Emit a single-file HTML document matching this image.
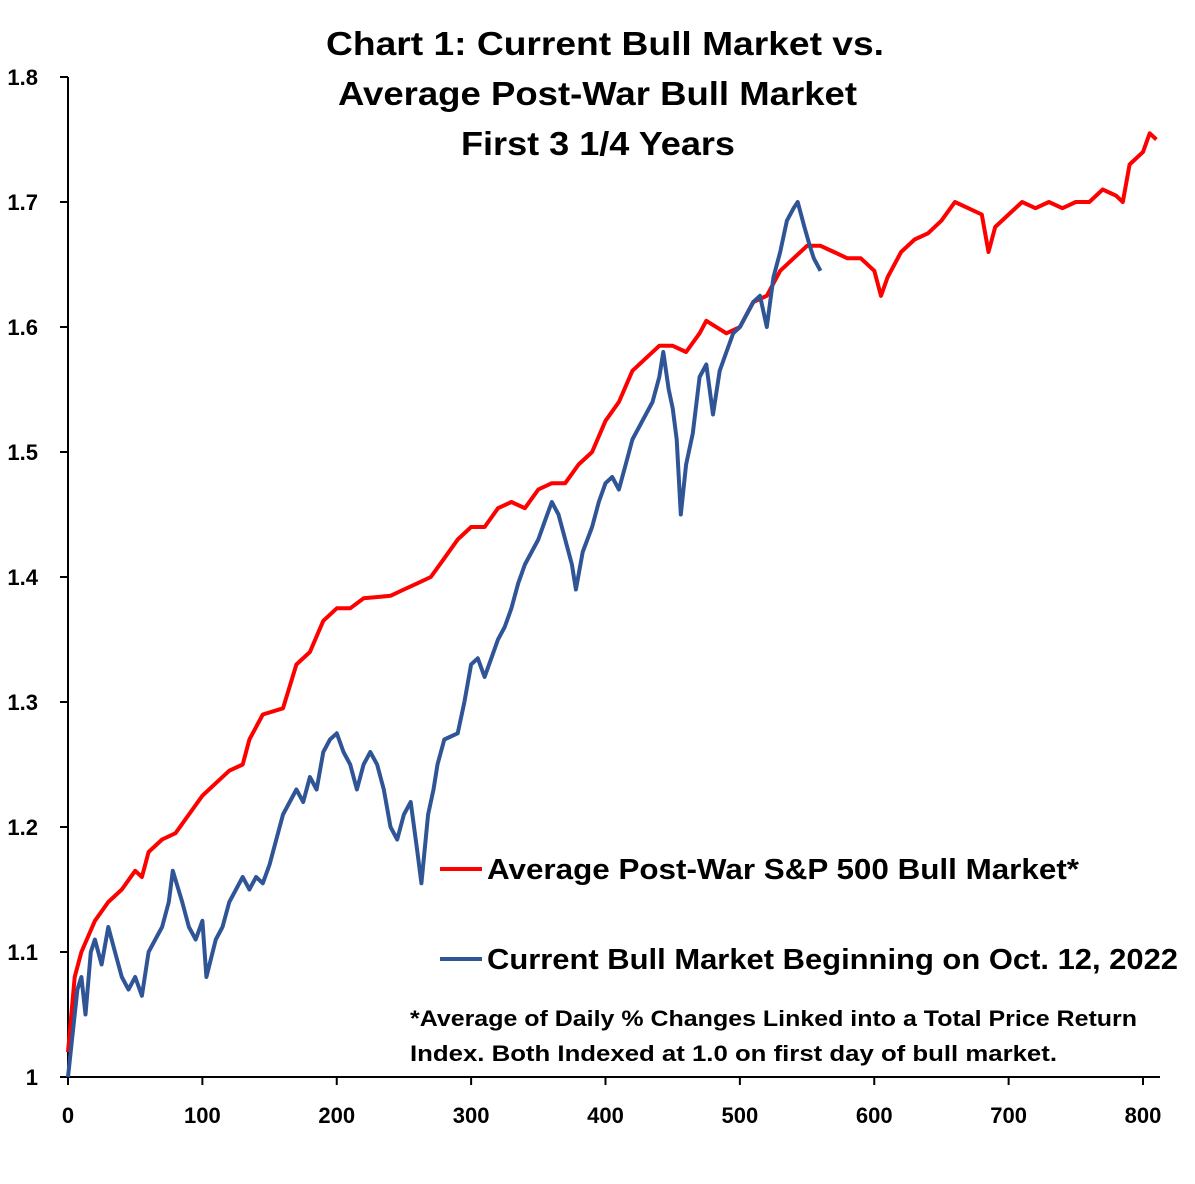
<!DOCTYPE html>
<html><head><meta charset="utf-8"><style>
body{margin:0;background:#fff;width:1195px;height:1179px;overflow:hidden;font-family:"Liberation Sans",sans-serif}
</style></head><body>
<svg width="1195" height="1179" font-family="Liberation Sans, sans-serif" font-weight="bold">
<g font-size="33" fill="#000">
<text x="326" y="55" textLength="558" lengthAdjust="spacingAndGlyphs">Chart 1: Current Bull Market vs.</text>
<text x="338" y="105" textLength="519" lengthAdjust="spacingAndGlyphs">Average Post-War Bull Market</text>
<text x="461" y="155" textLength="274" lengthAdjust="spacingAndGlyphs">First 3 1/4 Years</text>
</g>
<g id="axes"></g>
<g id="series"></g>
<g font-size="29" fill="#000">
<line x1="440" y1="869" x2="482" y2="869" stroke="#ff0000" stroke-width="4"/>
<text x="487" y="879" textLength="592" lengthAdjust="spacingAndGlyphs">Average Post-War S&amp;P 500 Bull Market*</text>
<line x1="440" y1="959" x2="482" y2="959" stroke="#2f5597" stroke-width="4"/>
<text x="487" y="969" textLength="691" lengthAdjust="spacingAndGlyphs">Current Bull Market Beginning on Oct. 12, 2022</text>
</g>
<g font-size="22" fill="#000">
<text x="410" y="1026" textLength="727" lengthAdjust="spacingAndGlyphs">*Average of Daily % Changes Linked into a Total Price Return</text>
<text x="410" y="1061" textLength="647" lengthAdjust="spacingAndGlyphs">Index.  Both Indexed at 1.0 on first day of bull market.</text>
</g>
</svg>
<script>
const xTicks=[0,100,200,300,400,500,600,700,800];
const yTicks=[1,1.1,1.2,1.3,1.4,1.5,1.6,1.7,1.8];
const yTickLabels=["1","1.1","1.2","1.3","1.4","1.5","1.6","1.7","1.8"];
const avgX=[0,5,10,20,30,40,50,55,60,70,80,90,100,110,120,130,135,145,160,170,180,190,200,210,220,240,250,260,270,280,290,300,310,320,330,340,350,360,370,380,390,400,410,420,430,440,450,460,470,475,490,500,510,520,530,540,550,560,570,580,590,600,605,610,620,630,640,650,660,670,680,685,690,700,710,720,730,740,750,760,770,780,785,790,800,805,810];
const avgY=[1.02,1.08,1.10,1.125,1.14,1.15,1.165,1.16,1.18,1.19,1.195,1.21,1.225,1.235,1.245,1.25,1.27,1.29,1.295,1.33,1.34,1.365,1.375,1.375,1.383,1.385,1.39,1.395,1.40,1.415,1.43,1.44,1.44,1.455,1.46,1.455,1.47,1.475,1.475,1.49,1.50,1.525,1.54,1.565,1.575,1.585,1.585,1.58,1.595,1.605,1.595,1.60,1.62,1.625,1.645,1.655,1.665,1.665,1.66,1.655,1.655,1.645,1.625,1.64,1.66,1.67,1.675,1.685,1.70,1.695,1.69,1.66,1.68,1.69,1.70,1.695,1.70,1.695,1.70,1.70,1.71,1.705,1.70,1.73,1.74,1.755,1.75];
const curX=[0,3,7,10,13,17,20,25,30,35,40,45,50,55,60,65,70,75,78,85,90,95,100,103,110,115,120,125,130,135,140,145,150,155,160,170,175,180,185,190,195,200,205,210,215,220,225,230,235,240,245,250,255,260,263,268,272,275,280,290,295,300,305,310,315,320,325,330,335,340,345,350,355,360,365,370,375,378,383,390,395,400,405,410,415,420,425,430,435,440,443,447,450,453,456,460,465,470,475,480,485,490,495,500,505,510,515,520,525,530,535,540,543,548,552,555,560];
const curY=[1.0,1.03,1.07,1.08,1.05,1.10,1.11,1.09,1.12,1.10,1.08,1.07,1.08,1.065,1.10,1.11,1.12,1.14,1.165,1.14,1.12,1.11,1.125,1.08,1.11,1.12,1.14,1.15,1.16,1.15,1.16,1.155,1.17,1.19,1.21,1.23,1.22,1.24,1.23,1.26,1.27,1.275,1.26,1.25,1.23,1.25,1.26,1.25,1.23,1.20,1.19,1.21,1.22,1.18,1.155,1.21,1.23,1.25,1.27,1.275,1.30,1.33,1.335,1.32,1.335,1.35,1.36,1.375,1.395,1.41,1.42,1.43,1.445,1.46,1.45,1.43,1.41,1.39,1.42,1.44,1.46,1.475,1.48,1.47,1.49,1.51,1.52,1.53,1.54,1.56,1.58,1.55,1.535,1.51,1.45,1.49,1.515,1.56,1.57,1.53,1.565,1.58,1.595,1.60,1.61,1.62,1.625,1.60,1.64,1.66,1.685,1.695,1.70,1.68,1.665,1.655,1.645];
const NS="http://www.w3.org/2000/svg";
const X=v=>68+v*1075/800, Y=v=>1077-(v-1)*1250;
function mk(tag,attrs,parent,txt){const e=document.createElementNS(NS,tag);for(const k in attrs)e.setAttribute(k,attrs[k]);if(txt!==undefined)e.textContent=txt;parent.appendChild(e);return e;}
const ax=document.getElementById('axes');
let e=mk('line',{x1:68,y1:77,x2:68,y2:1077,stroke:'#000','stroke-width':2},ax);


e=mk('line',{x1:67,y1:1077,x2:1160,y2:1077,stroke:'#000','stroke-width':2},ax);


yTicks.forEach((v,i)=>{
 mk('line',{x1:60,y1:Y(v),x2:68,y2:Y(v),stroke:'#000','stroke-width':2},ax);
 const t=mk('text',{x:38,y:Y(v)+8,'text-anchor':'end','font-size':22},ax,yTickLabels[i]);
 
 
});
xTicks.forEach(v=>{
 mk('line',{x1:X(v),y1:1077,x2:X(v),y2:1085,stroke:'#000','stroke-width':2},ax);
 const t=mk('text',{x:X(v),y:1123,'text-anchor':'middle','font-size':22},ax,String(v));
 
 
});
const sg=document.getElementById('series');
function path(xs,ys,col,name){
 const d=xs.map((x,i)=>(i?'L':'M')+X(x).toFixed(1)+','+Y(ys[i]).toFixed(1)).join('');
 const p=mk('path',{d:d,fill:'none',stroke:col,'stroke-width':4,'stroke-linejoin':'round'},sg);
 
 
}
path(avgX,avgY,'#ff0000','average-bull-market-line');
path(curX,curY,'#2f5597','current-bull-market-line');
</script>
</body></html>
